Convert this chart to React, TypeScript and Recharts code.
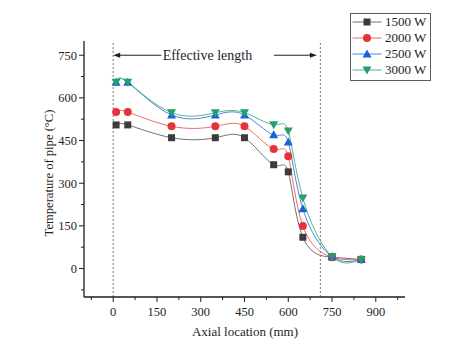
import {
  LineChart,
  Line,
  XAxis,
  YAxis,
  ReferenceLine,
  ReferenceDot,
  Legend,
  Label,
} from "recharts";

const axialMm = [10, 50, 200, 350, 450, 550, 600, 650, 750, 850];
const temp1500 = [505, 505, 460, 460, 460, 365, 340, 110, 40, 32];
const temp2000 = [550, 550, 500, 500, 500, 420, 395, 150, 40, 32];
const temp2500 = [655, 655, 540, 540, 540, 470, 445, 210, 42, 32];
const temp3000 = [655, 655, 548, 548, 548, 506, 484, 248, 42, 32];

const xTicks = [-75, 0, 75, 150, 225, 300, 375, 450, 525, 600, 675, 750, 825, 900, 975];
const yTicks = [-75, 0, 75, 150, 225, 300, 375, 450, 525, 600, 675, 750];

const FONT = "'Liberation Serif', 'Times New Roman', serif";
const INK = "#1e1e1e";

const data = axialMm.map((x, i) => ({
  x,
  p1500: temp1500[i],
  p2000: temp2000[i],
  p2500: temp2500[i],
  p3000: temp3000[i],
}));

const series = [
  { key: "p1500", name: "1500 W", marker: "#3c3c3c", line: "#707070", shape: "square" },
  { key: "p2000", name: "2000 W", marker: "#e8323a", line: "#f06a6a", shape: "circle" },
  { key: "p2500", name: "2500 W", marker: "#1b62d8", line: "#4d84e2", shape: "up" },
  { key: "p3000", name: "3000 W", marker: "#23a06c", line: "#55b68c", shape: "down" },
];

function Marker({ cx, cy, shape, color }: any) {
  if (cx == null || cy == null) return null;
  if (shape === "square")
    return <rect x={cx - 3.5} y={cy - 3.5} width={7} height={7} fill={color} />;
  if (shape === "circle") return <circle cx={cx} cy={cy} r={4} fill={color} />;
  if (shape === "up")
    return (
      <polygon
        points={`${cx},${cy - 4.5} ${cx + 4.5},${cy + 3.5} ${cx - 4.5},${cy + 3.5}`}
        fill={color}
      />
    );
  return (
    <polygon
      points={`${cx - 4.5},${cy - 3.5} ${cx + 4.5},${cy - 3.5} ${cx},${cy + 4.5}`}
      fill={color}
    />
  );
}

const XTick = ({ x, y, payload }: any) => {
  const major = payload.value % 150 === 0;
  return (
    <g>
      <line x1={x} x2={x} y1={y} y2={y + (major ? 5 : 3)} stroke={INK} />
      {major && (
        <text x={x} y={y + 19} textAnchor="middle" fontSize={12.5} fontFamily={FONT} fill={INK}>
          {payload.value}
        </text>
      )}
    </g>
  );
};

const YTick = ({ x, y, payload }: any) => {
  const major = payload.value % 150 === 0;
  return (
    <g>
      <line x1={x} x2={x - (major ? 5 : 3)} y1={y} y2={y} stroke={INK} />
      {major && (
        <text x={x - 7} y={y + 4.5} textAnchor="end" fontSize={12.5} fontFamily={FONT} fill={INK}>
          {payload.value}
        </text>
      )}
    </g>
  );
};

const Arrow = (p: any) => {
  const { x1, y1, x2, y2 } = p;
  const dir = Math.sign(x2 - x1);
  return (
    <g>
      <line x1={x1} y1={y1} x2={x2 - dir * 5} y2={y2} stroke={INK} strokeWidth={1} />
      <polygon
        points={`${x2},${y2} ${x2 - dir * 7},${y2 - 2.5} ${x2 - dir * 7},${y2 + 2.5}`}
        fill={INK}
      />
    </g>
  );
};

const renderLegend = () => (
  <div
    style={{
      border: "1px solid #5a5a5a",
      width: 79,
      paddingBottom: 2,
      background: "#fff",
      fontFamily: FONT,
    }}
  >
    {series.map((s) => (
      <div key={s.key} style={{ display: "flex", alignItems: "center", height: 16 }}>
        <svg width={32} height={16}>
          <line x1={1.5} x2={30.5} y1={8} y2={8} stroke={s.line} strokeWidth={1} />
          <Marker cx={16} cy={8} shape={s.shape} color={s.marker} />
        </svg>
        <span style={{ fontSize: 13, marginLeft: 2, color: INK, lineHeight: "16px" }}>
          {s.name}
        </span>
      </div>
    ))}
  </div>
);

export default function App() {
  return (
    <div style={{ position: "absolute", left: 0, top: 0, background: "#fff" }}>
      <LineChart
        width={474}
        height={357}
        data={data}
        margin={{ top: 41, right: 69, bottom: 0, left: 0 }}
      >
        <XAxis
          dataKey="x"
          type="number"
          domain={[-100, 1000]}
          ticks={xTicks}
          interval={0}
          allowDataOverflow
          height={60}
          tickSize={0}
          tickMargin={0}
          tickLine={false}
          tick={(p: any) => <XTick {...p} />}
          axisLine={{ stroke: INK, strokeWidth: 1.3 }}
        >
          <Label
            content={() => (
              <text x={245} y={336} textAnchor="middle" fontSize={13} fontFamily={FONT} fill={INK}>
                Axial location (mm)
              </text>
            )}
          />
        </XAxis>
        <YAxis
          type="number"
          domain={[-100, 800]}
          ticks={yTicks}
          interval={0}
          allowDataOverflow
          width={84}
          tickSize={0}
          tickMargin={0}
          tickLine={false}
          tick={(p: any) => <YTick {...p} />}
          axisLine={{ stroke: INK, strokeWidth: 1.3 }}
        >
          <Label
            content={() => (
              <text
                x={49}
                y={173}
                transform="rotate(-90 49 173)"
                textAnchor="middle"
                dominantBaseline="central"
                fontSize={12.6}
                fontFamily={FONT}
                fill={INK}
              >
                Temperature of pipe (°C)
              </text>
            )}
          />
        </YAxis>
        <ReferenceLine x={0} stroke="#777" strokeDasharray="2 2" />
        <ReferenceLine x={710} stroke="#777" strokeDasharray="2 2" />
        <ReferenceLine
          segment={[
            { x: 165, y: 750 },
            { x: 0, y: 750 },
          ]}
          shape={Arrow}
        />
        <ReferenceLine
          segment={[
            { x: 551, y: 750 },
            { x: 698, y: 750 },
          ]}
          shape={Arrow}
        />
        <ReferenceDot
          x={323}
          y={750}
          r={0}
          fill="none"
          stroke="none"
          label={{
            value: "Effective length",
            position: "center",
            fill: INK,
            fontSize: 14,
            fontFamily: FONT,
          }}
        />
        <Legend
          layout="horizontal"
          verticalAlign="middle"
          align="center"
          content={renderLegend}
          wrapperStyle={{ top: 13, left: 350, width: 81 }}
        />
        {series.map((s) => (
          <Line
            key={s.key}
            type="natural"
            dataKey={s.key}
            name={s.name}
            stroke={s.line}
            strokeWidth={1}
            isAnimationActive={false}
            dot={(p: any) => (
              <Marker key={`${s.key}-${p.index}`} cx={p.cx} cy={p.cy} shape={s.shape} color={s.marker} />
            )}
            activeDot={false}
          />
        ))}
      </LineChart>
    </div>
  );
}
